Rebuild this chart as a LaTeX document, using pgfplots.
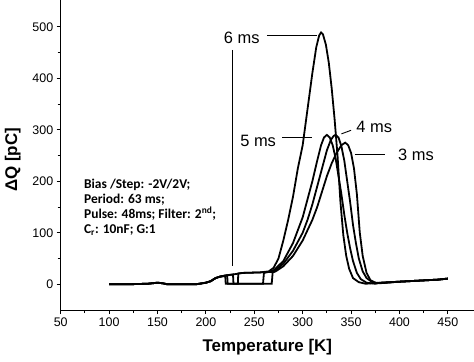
\documentclass[border=0pt]{standalone}
\usepackage{pgfplots}
\pgfplotsset{compat=1.18}
\usepackage{fontspec}
\setmainfont{Liberation Sans}
\newfontfamily\carlito{Carlito}
\begin{document}
\begin{tikzpicture}
\useasboundingbox (-60.7bp,-52bp) rectangle (413.3bp,310bp);
\begin{axis}[
  scale only axis, width=413.3bp, height=310bp,
  xmin=50, xmax=477, ymin=-50, ymax=552,
  axis lines*=left,
  axis line style={line width=1pt},
  tick align=outside,
  xtick={50,100,...,450}, ytick={0,100,...,500},
  minor x tick num=1, minor y tick num=1,
  major tick length=4bp, minor tick length=3bp,
  tick style={line width=0.9pt, black},
  /pgf/number format/assume math mode=true,
  ticklabel style={font=\fontsize{12.5}{14}\selectfont},
  every axis x label/.style={at={(axis description cs:0.5,0)}, anchor=center, yshift=-37bp},
  every axis y label/.style={at={(axis description cs:-0.116,0.484)}, rotate=90, anchor=center},
  xlabel={\fontsize{17}{20}\selectfont\bfseries Temperature [K]},
  ylabel={\fontsize{17}{20}\selectfont\bfseries ΔQ [pC]},
  clip=false,
]
% 6 ms
\addplot[black, line width=1.8pt] coordinates {
(100,0)(120,0)(140,1)(150,3)(155,2)(160,0)(190,0)(200,3)(205,6)(210,12)(215,15)(220,17)(228,19)(238,22)(256,23)(265,25)
(270,32)(275,50)(280,85)(285,125)(290,170)(295,225)(300,270)(305,340)(310,410)(314,460)(317,483)(319,489)(321,485)(324,465)(327,430)(330,380)(333,320)(336,250)(339,160)(342,95)(345,55)(348,30)(352,12)(358,4)(365,1)
(380,3)(400,5)(420,7)(440,9)(450,11)};
% 5 ms
\addplot[black, line width=1.8pt] coordinates {
(100,0)(120,0)(140,1)(150,3)(155,2)(160,0)(190,0)(200,3)(205,6)(210,12)(215,15)(220,17)(228,19)(228.5,1)(233,1)(233.5,21)(238,22)(256,23)(265,24)
(270,27)(280,45)(290,80)(295,105)(300,130)(305,165)(310,200)(315,240)(319,270)(322,285)(325,290)(328,285)(331,270)(334,245)(337,210)(340,175)(343,135)(346,100)(349,70)(352,45)(356,22)(360,10)(366,3)(375,1)
(380,3)(400,5)(420,7)(440,9)(450,11)};
% 4 ms
\addplot[black, line width=1.8pt] coordinates {
(100,0)(120,0)(140,1)(150,3)(155,2)(160,0)(190,0)(200,3)(205,6)(210,12)(215,15)(222,17)(222.5,1)(259,1)(260,22)(265,24)
(270,24)(280,40)(290,65)(300,100)(305,125)(310,155)(315,190)(320,225)(325,260)(329,280)(332,288)(334,290)(337,285)(340,268)(343,240)(346,200)(349,160)(352,115)(355,80)(358,50)(362,25)(366,12)(372,4)(380,2)
(400,5)(420,7)(440,9)(450,11)};
% 3 ms
\addplot[black, line width=1.8pt] coordinates {
(100,0)(120,0)(140,1)(150,3)(155,2)(160,0)(190,0)(200,3)(205,6)(210,12)(215,15)(220,16)(220.5,1)(268,1)(269,23)
(272,25)(280,35)(290,55)(300,85)(305,105)(310,125)(315,150)(320,180)(325,210)(330,235)(335,255)(340,270)(344,275)(347,270)(350,255)(353,225)(356,175)(359,100)(362,55)(366,22)(370,8)(376,2)(385,3)
(400,5)(420,7)(440,9)(450,11)};
% annotations
\addplot[black, line width=0.9pt] coordinates {(263,484)(315,484)};
\addplot[black, line width=0.9pt] coordinates {(227,455)(227,35)};
\addplot[black, line width=0.9pt] coordinates {(279,285)(310,285)};
\addplot[black, line width=0.9pt] coordinates {(340,292)(350,299)};
\addplot[black, line width=0.9pt] coordinates {(354,252)(385,252)};
\node[font=\fontsize{16.5}{18}\selectfont] at (axis cs:237,478) {6 ms};
\node[font=\fontsize{16.5}{18}\selectfont] at (axis cs:254,279) {5 ms};
\node[font=\fontsize{16.5}{18}\selectfont] at (axis cs:374,306) {4 ms};
\node[font=\fontsize{16.5}{18}\selectfont] at (axis cs:417,252) {3 ms};
\node[anchor=north west, align=left, inner sep=0pt, font=\carlito\bfseries\fontsize{13.5}{15}\selectfont] at (axis cs:74,205)
 {Bias /Step: -2V/2V;\\ Period: 63 ms;\\ Pulse: 48ms; Filter: 2\textsuperscript{nd};\\ C\textsubscript{r}: 10nF; G:1};
\end{axis}
\end{tikzpicture}
\end{document}
